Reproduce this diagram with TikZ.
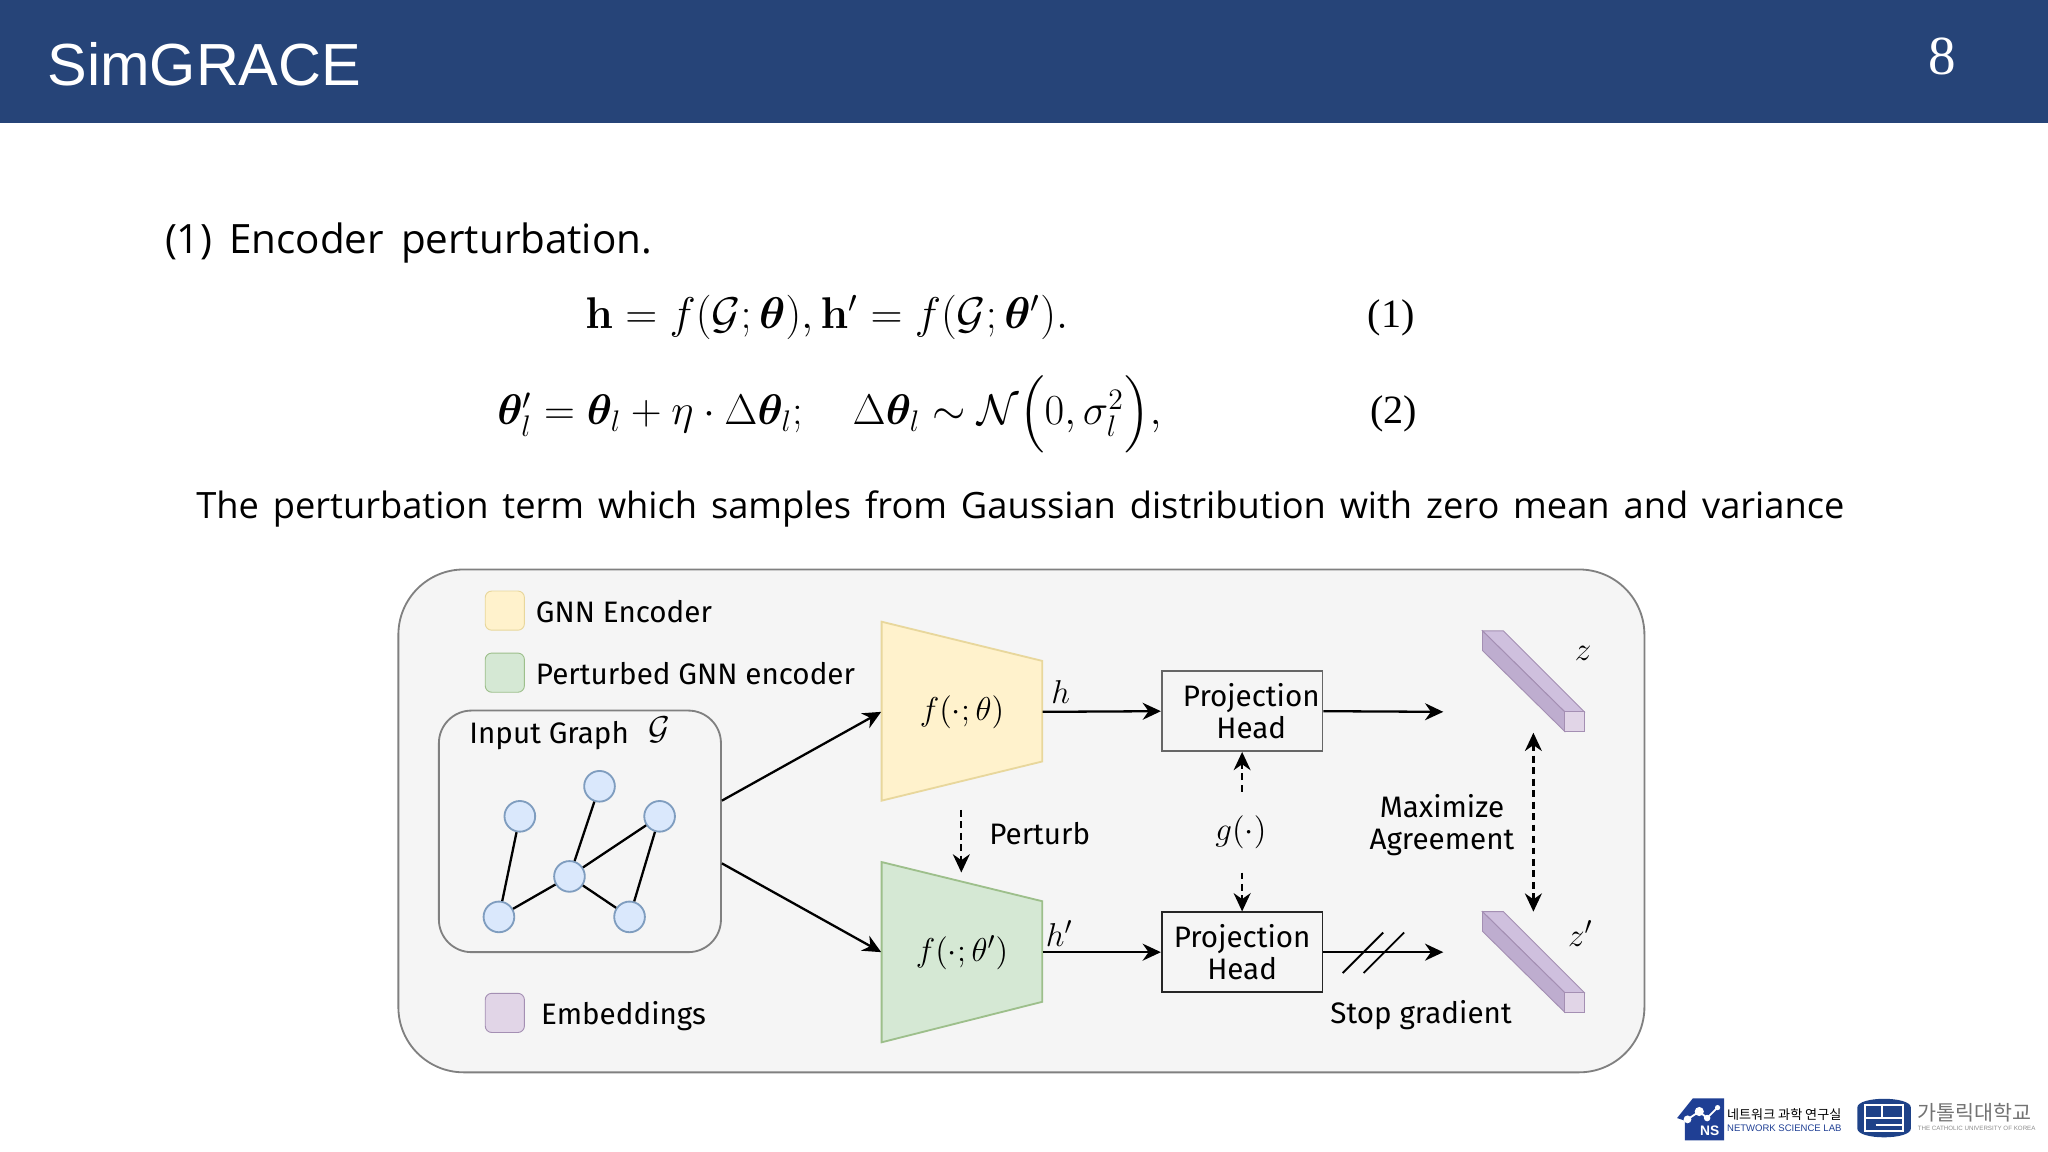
\documentclass[tikz,border=0pt]{standalone}
\usepackage{amsmath}
\usepackage{bm}
\usepackage[no-math]{fontspec}
\setmainfont{Open Sans}
\newfontfamily\titlefont{Liberation Sans}
\newfontfamily\pagefont{Liberation Serif}
\newfontfamily\labelfont{Fira Sans}
\newfontfamily\krfont{Noto Sans CJK KR}
\usetikzlibrary{positioning,arrows.meta}
\definecolor{headerblue}{HTML}{264478}
\definecolor{logoblue}{HTML}{1F3F94}
\definecolor{sealblue}{HTML}{1E4288}
\definecolor{panelgray}{HTML}{F5F5F5}
\definecolor{yellowfill}{HTML}{FFF2CC}
\definecolor{yellowline}{HTML}{E8D79C}
\definecolor{greenfill}{HTML}{D5E8D4}
\definecolor{greenline}{HTML}{9DBF8B}
\definecolor{purplefill}{HTML}{E1D5E7}
\definecolor{purpleline}{HTML}{A48FB3}
\definecolor{purpletop}{HTML}{CFC0DE}
\definecolor{purpleside}{HTML}{BEADCF}
\definecolor{vertexfill}{HTML}{DAE8FC}
\definecolor{vertexline}{HTML}{7F9DBF}

\begin{document}
\begin{tikzpicture}[
    x=0.02cm, y=-0.02cm,
    legendbox/.style={rectangle, rounded corners=1mm, minimum size=6mm, inner sep=0pt},
    legendtext/.style={anchor=west, inner sep=0pt, font=\labelfont\fontsize{12.9}{15}\selectfont},
    difftext/.style={inner sep=0pt, align=center, font=\labelfont\fontsize{12.9}{14}\selectfont},
    mathtext/.style={inner sep=0pt, font=\fontsize{15}{18}\selectfont},
    vertex/.style={circle, draw=vertexline, fill=vertexfill, thick, minimum size=4.7mm, inner sep=0pt},
    edge/.style={draw=black, line width=1pt},
    projbox/.style={rectangle, draw=#1, thick, minimum width=24.6mm, minimum height=12.2mm, inner sep=0pt, align=center, font=\labelfont\fontsize{12.9}{14}\selectfont},
    flow/.style={-{Stealth[length=2.8mm,width=2.6mm]}, line width=1pt},
    dashflow/.style={{Stealth[length=2.8mm,width=2.6mm]}-{Stealth[length=2.8mm,width=2.6mm]}, line width=1pt, densely dashed},
    body/.style={anchor=west, inner sep=0pt, font=\fontsize{15.8}{20}\selectfont},
    eqn/.style={inner sep=0pt, transform shape, font=\fontsize{17.28}{22}\selectfont},
    eqnum/.style={inner sep=0pt, font=\pagefont\fontsize{17.5}{20}\selectfont}
]
\useasboundingbox (0,0) rectangle (1568,882);

% header
\fill[headerblue] (0,0) rectangle (1568,94);
\node (title) [anchor=west, inner sep=0pt, text=white, font=\titlefont\fontsize{25.9}{28}\selectfont] at (36,49) {SimGRACE};
\node (pagenum) [inner sep=0pt, text=white, font=\pagefont\fontsize{24}{26}\selectfont] at (1487,43) {8};

% text and equations
\node (heading) [body, font=\fontsize{17.6}{20}\selectfont] at (126,186) {\makebox[74.6mm][s]{(1) Encoder perturbation.}};
\node (eqone) [eqn, scale=1.12] at (633,243) {$\mathbf{h}=f(\mathcal{G};\bm{\theta}),\mathbf{h}'=f(\mathcal{G};\bm{\theta}').$};
\node (eqonenum) [eqnum] at (1065,243) {(1)};
\node (eqtwo) [eqn, scale=1.08] at (635,317) {$\bm{\theta}_l'=\bm{\theta}_l+\eta\cdot\Delta\bm{\theta}_l;\quad\Delta\bm{\theta}_l\sim\mathcal{N}\Big(0,\sigma_l^2\Big),$};
\node (eqtwonum) [eqnum] at (1067,317) {(2)};
\node (remark) [body] at (150,390) {\makebox[252.4mm][s]{The perturbation term which samples from Gaussian distribution with zero mean and variance}};

% panel
\draw[draw=black!50, fill=panelgray, thick, rounded corners=10mm] (305,436) rectangle (1259,821);

% legend
\node (legyellow) [legendbox, draw=yellowline, fill=yellowfill] at (386.5,467.5) {};
\node (leggreen) [legendbox, draw=greenline, fill=greenfill] at (386.5,515) {};
\node (legpurple) [legendbox, draw=purpleline, fill=purplefill] at (386.5,775.5) {};
\node (legyellowtext) [legendtext] at (410,468) {GNN Encoder};
\node (leggreentext) [legendtext] at (410,516) {Perturbed GNN encoder};
\node (legpurpletext) [legendtext] at (414,778) {Embeddings};

% input graph
\node (inputbox) [rectangle, draw=black!50, thick, rounded corners=5mm, minimum width=43.2mm, minimum height=37mm] at (444,636.5) {};
\node (inputtext) [legendtext] at (359,563) {Input Graph};
\node (inputsym) [mathtext] at (505,559) {$\mathcal{G}$};
\node (va) [vertex] at (398,625) {};
\node (vb) [vertex] at (459,602) {};
\node (vc) [vertex] at (505,625) {};
\node (vd) [vertex] at (436,671) {};
\node (ve) [vertex] at (382,702) {};
\node (vf) [vertex] at (482,702) {};
\draw[edge] (va) -- (ve);
\draw[edge] (vb) -- (vd);
\draw[edge] (vc) -- (vd);
\draw[edge] (vc) -- (vf);
\draw[edge] (vd) -- (ve);
\draw[edge] (vd) -- (vf);

% encoders
\draw[draw=yellowline, fill=yellowfill, thick] (675,476) -- (798,506) -- (798,583) -- (675,613) -- cycle;
\draw[draw=greenline, fill=greenfill, thick] (675,660) -- (798,690) -- (798,767) -- (675,798) -- cycle;
\node (enctop) [mathtext, minimum width=24.6mm] at (736.5,545) {$f(\cdot;\theta)$};
\node (encbot) [mathtext, minimum width=24.6mm] at (736.5,729) {$f(\cdot;\theta')$};
\draw[flow] ([yshift=-1.4mm]inputbox.north east |- 0,606) -- (enctop.west);
\draw[flow] ([yshift=1.4mm]inputbox.south east |- 0,668) -- (encbot.west);
\draw[flow, densely dashed] (736,620) -- (736,668);
\node (perturbtext) [difftext] at (796,638) {Perturb};

% projection heads
\node (projtop) [projbox=black!60] at (951,544.5) {\hspace*{2.8mm}Projection\\\hspace*{2.8mm}Head};
\node (projbot) [projbox=black!85] at (951,729) {Projection\\Head};
\node (htop) [mathtext] at (812,530) {$h$};
\node (hbot) [mathtext] at (811,715) {$h'$};
\draw[flow] (enctop.east) -- (projtop.west);
\draw[flow] (encbot.east) -- (projbot.west);
\coordinate (outtop) at (1105,545);
\coordinate (outbot) at (1105,729);
\draw[flow] (projtop.east) -- (outtop);
\draw[flow] (projbot.east) -- (outbot);
\draw[thick] (1028,745) -- (1059,714);
\draw[thick] (1044,745) -- (1075,714);
\node (stoptext) [difftext] at (1088,777) {Stop gradient};

% g
\node (gtext) [mathtext] at (950,637) {$g(\cdot)$};
\draw[flow, densely dashed] (951,606) -- (projtop.south -| 951,0);
\draw[flow, densely dashed] (951,668) -- (projbot.north -| 951,0);

% embeddings
\foreach \yo/\barname in {0/bartop,215/barbot} {
  \begin{scope}[yshift=-\yo*0.02cm]
    \draw[draw=purpleline, fill=purpletop] (1135,483) -- (1151,483) -- (1213,545) -- (1198,545) -- cycle;
    \draw[draw=purpleline, fill=purpleside] (1135,483) -- (1198,545) -- (1198,560) -- (1135,498) -- cycle;
    \draw[draw=purpleline, fill=purplefill] (1198,545) -- (1213,545) -- (1213,560) -- (1198,560) -- cycle;
  \end{scope}
}
\node (ztop) [mathtext] at (1212,500) {$z$};
\node (zbot) [mathtext] at (1210,715) {$z'$};
\coordinate (agreetop) at (1174,561);
\coordinate (agreebot) at (1174,698);
\draw[dashflow] (agreetop) -- (agreebot);
\node (agreetext) [difftext] at (1104,632) {Maximize\\Agreement};

% logos
\fill[logoblue] (1284,856) -- (1296,841) -- (1320,841) -- (1320,873) -- (1290,873) -- (1290,858) -- cycle;
\node (nstext) [inner sep=0pt, text=white, font=\titlefont\bfseries\fontsize{6}{6}\selectfont] at (1309,866) {NS};
\fill[white] (1301,851) circle (3.5) (1292,857) circle (3) (1307,856) circle (2.5) (1315,848) circle (2);
\draw[white, thick] (1292,857) -- (1301,851) -- (1307,856) -- (1315,848);
\node (labkr) [anchor=west, inner sep=0pt, font=\krfont\fontsize{5.7}{7}\selectfont] at (1322,853) {네트워크 과학 연구실};
\node (laben) [anchor=west, inner sep=0pt, text=logoblue, font=\titlefont\fontsize{4.15}{5}\selectfont] at (1322,864) {NETWORK SCIENCE LAB};
\fill[sealblue] (1422,848) .. controls (1422,839) and (1463,839) .. (1463,848) -- (1463,864) .. controls (1463,873) and (1422,873) .. (1422,864) -- cycle;
\draw[white, thick] (1428,846) rectangle (1457,866);
\draw[white, thick] (1428,856) -- (1457,856) (1441,846) -- (1441,856) (1436,861) -- (1457,861);
\node (unikr) [anchor=west, inner sep=0pt, text=black!55, font=\krfont\fontsize{9}{10}\selectfont] at (1468,852) {가톨릭대학교};
\node (unien) [anchor=west, inner sep=0pt, text=black!45, font=\titlefont\fontsize{2.7}{3}\selectfont] at (1468,864) {THE CATHOLIC UNIVERSITY OF KOREA};

\end{tikzpicture}
\end{document}
